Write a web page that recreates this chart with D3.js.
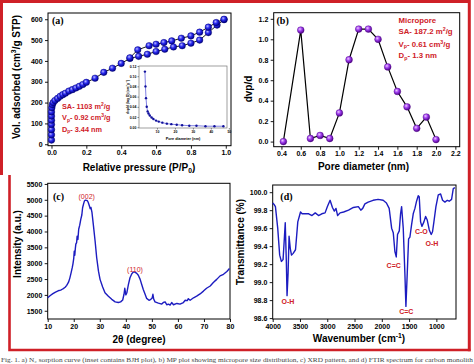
<!DOCTYPE html>
<html><head><meta charset="utf-8">
<script src="https://cdn.jsdelivr.net/npm/d3@7"></script>
<style>body{margin:0;background:#fff}svg{display:block}</style>
</head><body><svg id="c" width="474" height="364"></svg>
<script>
// ---------- DATA ----------
// (a) N2 sorption isotherm
const isoAdsP = [0,0,0,0,0,0,0,0.002,0.005,0.01,0.02,0.035,0.05,0.065,0.08,0.1,0.12,0.14,0.16,0.18,0.2,0.25,0.3,0.35,0.4,0.45,0.5,0.55,0.6,0.65,0.7,0.75,0.8,0.85,0.9,0.95,0.99];
const isoAdsV = [20,45,70,95,115,135,155,175,190,200,210,220,230,238,245,255,262,270,278,287,297,317,345,365,388,412,422,432,445,456,467,473,485,500,536,572,598];
const isoDesP = [0.99,0.945,0.9,0.85,0.8,0.745,0.69,0.645,0.6,0.56,0.495,0.45];
const isoDesV = [600,584,562,538,520,509,496,488,480,473,453,415];
const isoXTicks = [0,0.2,0.4,0.6,0.8,1.0];
const isoYTicks = [0,100,200,300,400,500,600];
// inset BJH
const bjhD = [3.3,3.6,3.9,4.3,4.8,5.3,6,7,8,9.5,11,13,15.5,18,21,24,28,32,37,42,47];
const bjhV = [0.109,0.080,0.057,0.040,0.031,0.027,0.023,0.019,0.016,0.013,0.011,0.009,0.007,0.006,0.005,0.004,0.003,0.003,0.002,0.002,0.002];
const bjhXTicks = [10,20,30,40,50];
const bjhYTicks = [0,0.02,0.04,0.06,0.08,0.10,0.12];
// (b) MP plot
const mpD = [0.42,0.6,0.7,0.8,0.9,1.0,1.1,1.2,1.3,1.4,1.5,1.6,1.7,1.8,1.9,2.0];
const mpV = [0.0,1.09,0.03,0.06,0.03,0.28,0.80,1.10,1.10,1.00,0.73,0.49,0.34,0.13,0.24,0.02];
const mpXTicks = [0.4,0.6,0.8,1.0,1.2,1.4,1.6,1.8,2.0,2.2];
const mpYTicks = [0,0.2,0.4,0.6,0.8,1.0,1.2];
// (c) XRD
const xrdTheta = [10,11,12,13,14,15,15.4,16,16.7,17.3,18,18.5,19,19.4,19.7,20,20.2,20.4,20.6,20.8,21.1,21.3,21.6,21.9,22.3,22.7,23.1,23.4,23.8,24.1,24.5,24.9,25.2,25.5,25.8,26.1,26.3,26.6,26.8,27,27.5,28.2,28.8,29.5,30.1,31.1,32,33.3,34.6,35.9,37.1,38,38.8,39.3,39.6,40,40.4,41,41.6,42.3,42.9,43.5,44.2,44.8,45.5,46.1,46.7,47.4,48,48.9,49.6,50.1,50.4,50.7,51.2,52.5,53.8,54.4,55.1,55.7,56.4,57,57.6,58.3,59.6,60.8,62.1,62.8,63.6,64,64.7,66,67.2,68.5,69.8,71,72.4,73.6,74.9,76.2,77.5,78.8,79.8];
const xrdI = [1910,1980,2040,2090,2130,2150,2170,2200,2240,2300,2400,2530,2700,2850,2980,3150,3380,3250,3450,3600,3650,3850,3750,4070,4200,4380,4520,4750,4880,4960,4990,4980,4970,4930,4860,4780,4720,4760,4680,4600,4230,3700,3180,2750,2490,2250,2070,1960,1860,1780,1760,1780,1840,2020,2210,2000,2070,2330,2540,2670,2720,2720,2680,2620,2490,2330,2170,2020,1890,1830,1860,1900,2020,1870,1780,1740,1710,1760,1780,1690,1710,1680,1760,1690,1730,1710,1760,1830,1820,1880,1830,1910,1960,2030,2120,2210,2280,2390,2490,2600,2650,2740,2830];
const xrdXTicks = [10,20,30,40,50,60,70,80];
const xrdYTicks = [1500,2000,2500,3000,3500,4000,4500,5000,5500];
// (d) FTIR
const ftirWn = [4000,3970,3950,3908,3872,3841,3810,3790,3770,3750,3737,3718,3700,3677,3655,3625,3582,3540,3490,3460,3400,3340,3280,3220,3160,3100,3040,2997,2948,2905,2870,2840,2810,2765,2700,2610,2520,2430,2385,2350,2310,2250,2160,2068,1975,1915,1865,1820,1790,1760,1735,1712,1680,1656,1637,1607,1576,1558,1533,1509,1485,1454,1424,1393,1363,1332,1314,1289,1265,1228,1197,1167,1130,1094,1070,1045,1008,965,922,886,843,800,764,721,690,660];
const ftirT = [99.88,99.86,99.84,99.6,99.3,99.23,99.25,99.45,99.66,99.23,98.85,99.1,99.51,99.37,99.30,99.32,99.36,99.67,99.78,99.76,99.76,99.76,99.74,99.77,99.74,99.76,99.77,99.84,99.91,99.83,99.79,99.82,99.74,99.77,99.78,99.80,99.83,99.84,99.80,99.82,99.87,99.89,99.91,99.92,99.91,99.88,99.82,99.6,99.55,99.34,99.28,99.53,99.57,99.76,99.84,99.6,99.08,98.73,99.11,99.48,99.5,99.64,99.76,99.82,99.9,99.96,99.95,99.67,99.62,99.67,99.73,99.69,99.58,99.53,99.56,99.67,99.84,99.97,99.98,99.91,99.89,99.91,99.9,99.92,100.04,100.05];
const ftirXTicks = [4000,3500,3000,2500,2000,1500,1000];
const ftirYTicks = [98.6,98.8,99.0,99.2,99.4,99.6,99.8,100.0];

// ---------- DRAW ----------
const svg = d3.select('#c');
svg.append('rect').attr('width',474).attr('height',364).attr('fill','#fff');
const RED = '#cf2027', BLUE = '#1c1cc0';
const SANS = '"Liberation Sans", Arial, sans-serif';
const SERIF = '"Liberation Serif", "Times New Roman", serif';

const defs = svg.append('defs');
function grad(id, c0, c1, c2){
  const g = defs.append('radialGradient').attr('id',id).attr('cx','38%').attr('cy','35%').attr('r','65%');
  g.append('stop').attr('offset','0%').attr('stop-color',c0);
  g.append('stop').attr('offset','45%').attr('stop-color',c1);
  g.append('stop').attr('offset','100%').attr('stop-color',c2);
}
grad('gBlue','#b8b8ff','#2b2bf0','#00008a');
grad('gPurple','#f0c8ff','#a040f0','#50008a');

function frameAxes(x, y, xt, yt, xf, yf, fs, ts){
  const g = svg.append('g');
  const [x0,x1] = x.range(), [y1,y0] = y.range();
  g.append('g').attr('transform',`translate(0,${y1})`)
    .call(d3.axisBottom(x).tickValues(xt).tickFormat(xf).tickSize(ts).tickSizeOuter(0).tickPadding(ts*0.6));
  g.append('g').attr('transform',`translate(${Math.min(x0,x1)},0)`)
    .call(d3.axisLeft(y).tickValues(yt).tickFormat(yf).tickSize(ts).tickSizeOuter(0).tickPadding(ts*0.8));
  g.selectAll('.domain').remove();
  g.selectAll('.tick line').attr('stroke','#000').attr('stroke-width',0.9);
  g.selectAll('.tick text').attr('font-family',SANS).attr('font-weight','bold').attr('font-size',fs).attr('fill','#000');
  g.append('rect').attr('x',Math.min(x0,x1)).attr('y',y0).attr('width',Math.abs(x1-x0)).attr('height',y1-y0)
    .attr('fill','none').attr('stroke','#000').attr('stroke-width',1);
  return g;
}

function rich(parent, x, y, parts, fs, fill, anchor, rot, family, weight){
  const t = parent.append('text').attr('font-family',family||SANS).attr('font-weight',weight||'bold')
    .attr('font-size',fs).attr('fill',fill).attr('text-anchor',anchor||'start');
  if (rot) t.attr('transform',`translate(${x},${y}) rotate(-90)`); else t.attr('x',x).attr('y',y);
  let shift = 0;
  parts.forEach(p=>{
    if (typeof p === 'string'){ t.append('tspan').attr('dy',-shift).text(p); shift = 0; }
    else {
      const s = p.sup ? -fs*0.38 : fs*0.25;
      t.append('tspan').attr('dy',s-shift).attr('font-size',fs*0.68).text(p.t);
      shift = s;
    }
  });
  return t;
}

// ===== (a) =====
const xa = d3.scaleLinear().domain([-0.02,1.03]).range([48,231]);
const ya = d3.scaleLinear().domain([-7,630]).range([145.7,13]);
frameAxes(xa, ya, isoXTicks, isoYTicks, d3.format('.1f'), d3.format('d'), 7, 3);
const lineA = d3.line().x(d=>xa(d[0])).y(d=>ya(d[1]));
const ads = isoAdsP.map((p,i)=>[p,isoAdsV[i]]);
const des = isoDesP.map((p,i)=>[p,isoDesV[i]]);
svg.append('path').attr('d',lineA(ads)).attr('fill','none').attr('stroke','#000').attr('stroke-width',0.9);
svg.append('path').attr('d',lineA(des)).attr('fill','none').attr('stroke','#000').attr('stroke-width',0.9);
svg.append('g').selectAll('circle').data(ads.concat(des)).join('circle')
  .attr('cx',d=>xa(d[0])).attr('cy',d=>ya(d[1])).attr('r',3.3)
  .attr('fill','url(#gBlue)').attr('stroke','#00006a').attr('stroke-width',0.4);
rich(svg, 52, 23.5, ['(a)'], 10, '#000', 'start', false, SERIF);
rich(svg, 62, 108.5, ['SA- 1103 m',{t:'2',sup:true},'/g'], 7.3, RED);
rich(svg, 62, 120, ['V',{t:'p'},'- 0.92 cm',{t:'3',sup:true},'/g'], 7.3, RED);
rich(svg, 62, 131.5, ['D',{t:'p'},'- 3.44 nm'], 7.3, RED);
rich(svg, 19.5, 77, ['Vol. adsorbed (cm',{t:'3',sup:true},'/g STP)'], 10, '#000', 'middle', true);
rich(svg, 139, 170.5, ['Relative pressure (P/P',{t:'0'},')'], 10, '#000', 'middle');

// inset
const xi = d3.scaleLinear().domain([0,49]).range([139,227]);
const yi = d3.scaleLinear().domain([-0.0015,0.12]).range([128,66]);
svg.append('rect').attr('x',139).attr('y',66).attr('width',88).attr('height',62).attr('fill','#fff');
const gi = frameAxes(xi, yi, bjhXTicks, bjhYTicks, d3.format('d'), d3.format('.2f'), 3.4, 1.5);
gi.select('rect').attr('stroke','#777').attr('stroke-width',0.7);
gi.selectAll('.tick line').attr('stroke-width',0.5);
const bjh = bjhD.map((d,i)=>[d,bjhV[i]]);
svg.append('path').attr('d',d3.line().x(d=>xi(d[0])).y(d=>yi(d[1]))(bjh)).attr('fill','none').attr('stroke','#2a2ad0').attr('stroke-width',0.6);
svg.append('g').selectAll('circle').data(bjh).join('circle')
  .attr('cx',d=>xi(d[0])).attr('cy',d=>yi(d[1])).attr('r',1.2).attr('fill','#10109a');
rich(svg, 128.5, 97, ['dvp/d (log D) (cm',{t:'3',sup:true},'g',{t:'-1',sup:true},')'], 3.4, '#000', 'middle', true);
rich(svg, 183, 140, ['Pore diameter (nm)'], 3.8, '#000', 'middle');

// ===== (b) =====
const xb = d3.scaleLinear().domain([0.32,2.245]).range([273.7,459.7]);
const yb = d3.scaleLinear().domain([-0.05,1.26]).range([146.7,12.7]);
frameAxes(xb, yb, mpXTicks, mpYTicks, d3.format('.1f'), d3.format('.1f'), 7, 3);
const mp = mpD.map((d,i)=>[d,mpV[i]]);
svg.append('path').attr('d',d3.line().x(d=>xb(d[0])).y(d=>yb(d[1]))(mp)).attr('fill','none').attr('stroke','#000').attr('stroke-width',1.2);
svg.append('g').selectAll('circle').data(mp).join('circle')
  .attr('cx',d=>xb(d[0])).attr('cy',d=>yb(d[1])).attr('r',3.4)
  .attr('fill','url(#gPurple)').attr('stroke','#4a0080').attr('stroke-width',0.4);
rich(svg, 276.5, 23.5, ['(b)'], 10, '#000', 'start', false, SERIF);
rich(svg, 398.5, 22.7, ['Micropore'], 7.8, RED);
rich(svg, 398.5, 34.3, ['SA- 187.2 m',{t:'2',sup:true},'/g'], 7.8, RED);
rich(svg, 398.5, 46.5, ['V',{t:'p'},'- 0.61 cm',{t:'3',sup:true},'/g'], 7.8, RED);
rich(svg, 398.5, 58.3, ['D',{t:'p'},'- 1.3 nm'], 7.8, RED);
rich(svg, 252, 89, ['dvp/d'], 10, '#000', 'middle', true);
rich(svg, 363.5, 169.5, ['Pore diameter (nm)'], 10, '#000', 'middle');

// ===== (c) =====
const xc = d3.scaleLinear().domain([10,80]).range([47.7,230]);
const yc = d3.scaleLinear().domain([1240,5520]).range([319,183.3]);
frameAxes(xc, yc, xrdXTicks, xrdYTicks, d3.format('d'), d3.format('d'), 7, 3);
const xrd = xrdTheta.map((t,i)=>[t,xrdI[i]]);
svg.append('path').attr('d',d3.line().x(d=>xc(d[0])).y(d=>yc(d[1]))(xrd)).attr('fill','none').attr('stroke',BLUE).attr('stroke-width',1.4).attr('stroke-linejoin','round');
rich(svg, 53, 199.5, ['(c)'], 10, '#000', 'start', false, SERIF);
rich(svg, 86.7, 199.3, ['(002)'], 7, RED, 'middle', false, SANS, 'normal');
rich(svg, 135, 271.5, ['(110)'], 7, RED, 'middle', false, SANS, 'normal');
rich(svg, 20.5, 244, ['Intensity (a.u.)'], 10, '#000', 'middle', true);
rich(svg, 139, 342.5, ['2θ (degree)'], 10, '#000', 'middle');

// ===== (d) =====
const xd = d3.scaleLinear().domain([4000,640]).range([272.7,456]);
const yd = d3.scaleLinear().domain([98.59,100.08]).range([319,185]);
frameAxes(xd, yd, ftirXTicks, ftirYTicks, d3.format('d'), d3.format('.1f'), 7, 3);
const ftir = ftirWn.map((w,i)=>[w,ftirT[i]]);
svg.append('path').attr('d',d3.line().x(d=>xd(d[0])).y(d=>yd(d[1]))(ftir)).attr('fill','none').attr('stroke',BLUE).attr('stroke-width',1.4).attr('stroke-linejoin','round');
rich(svg, 280.3, 200, ['(d)'], 10, '#000', 'start', false, SERIF);
rich(svg, 288, 303.5, ['O-H'], 7, RED, 'middle');
rich(svg, 393.7, 267.5, ['C=C'], 7, RED, 'middle');
rich(svg, 406.3, 314, ['C=C'], 7, RED, 'middle');
rich(svg, 421.3, 234, ['C-O'], 7, RED, 'middle');
rich(svg, 432, 245.7, ['O-H'], 7, RED, 'middle');
rich(svg, 243.5, 242, ['Transmittance (%)'], 10, '#000', 'middle', true);
rich(svg, 359, 341.5, ['Wavenumber (cm',{t:'-1',sup:true},')'], 10, '#000', 'middle');

// ===== red frame =====
const fr = svg.append('g').attr('stroke',RED).attr('fill','none');
fr.append('path').attr('d','M1.5,175 V1.5 H469.3 V351.3').attr('stroke-width',3);
fr.append('path').attr('d','M9.5,175 V350 H470.5').attr('stroke-width',2.6);

// caption
svg.append('text').attr('x',1).attr('y',361.5).attr('font-family',SERIF).attr('font-size',5.6).attr('fill','#444')
  .attr('textLength',472).attr('lengthAdjust','spacingAndGlyphs')
  .text('Fig. 1. a) N\u2082 sorption curve (inset contains BJH plot), b) MP plot showing micropore size distribution, c) XRD pattern, and d) FTIR spectrum for carbon monolith');
</script></body></html>
